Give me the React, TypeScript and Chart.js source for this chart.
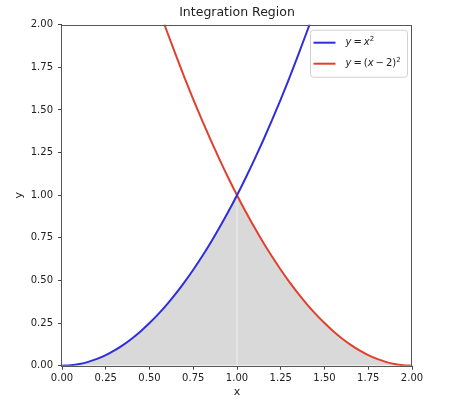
import { useEffect, useRef } from "react";
import { Chart, registerables } from "chart.js";

Chart.register(...registerables);
Chart.defaults.font.family = "'DejaVu Sans', sans-serif";

// sample x positions read along the axis
const xs = [
  0, 0.05, 0.1, 0.15, 0.2, 0.25, 0.3, 0.35, 0.4, 0.45, 0.5, 0.55, 0.6, 0.65,
  0.7, 0.75, 0.8, 0.85, 0.9, 0.95, 1, 1.05, 1.1, 1.15, 1.2, 1.25, 1.3, 1.35,
  1.4, 1.45, 1.5, 1.55, 1.6, 1.65, 1.7, 1.75, 1.8, 1.85, 1.9, 1.95, 2,
];
// y = x^2, for x = 0 .. 1.45 (leaves the plot at the top)
const yBlue = [
  0, 0.0025, 0.01, 0.0225, 0.04, 0.0625, 0.09, 0.1225, 0.16, 0.2025, 0.25,
  0.3025, 0.36, 0.4225, 0.49, 0.5625, 0.64, 0.7225, 0.81, 0.9025, 1, 1.1025,
  1.21, 1.3225, 1.44, 1.5625, 1.69, 1.8225, 1.96, 2.1025,
];
// y = (x-2)^2, for x = 0.55 .. 2
const redStart = 11;
const yRed = [
  2.1025, 1.96, 1.8225, 1.69, 1.5625, 1.44, 1.3225, 1.21, 1.1025, 1, 0.9025,
  0.81, 0.7225, 0.64, 0.5625, 0.49, 0.4225, 0.36, 0.3025, 0.25, 0.2025, 0.16,
  0.1225, 0.09, 0.0625, 0.04, 0.0225, 0.01, 0.0025, 0,
];
// shaded region: lower of the two curves
const yShaded = [
  0, 0.0025, 0.01, 0.0225, 0.04, 0.0625, 0.09, 0.1225, 0.16, 0.2025, 0.25,
  0.3025, 0.36, 0.4225, 0.49, 0.5625, 0.64, 0.7225, 0.81, 0.9025, 1, 0.9025,
  0.81, 0.7225, 0.64, 0.5625, 0.49, 0.4225, 0.36, 0.3025, 0.25, 0.2025, 0.16,
  0.1225, 0.09, 0.0625, 0.04, 0.0225, 0.01, 0.0025, 0,
];
const seamX = [1, 1];
const seamY = [0, 1];

const tickValues = [0, 0.25, 0.5, 0.75, 1, 1.25, 1.5, 1.75, 2];

const blue = "#2e2ede";
const red = "#e2402f";

type Part = { t: string; it?: boolean; sup?: boolean };
const legendItems: { color: string; parts: Part[] }[] = [
  {
    color: blue,
    parts: [{ t: "y", it: true }, { t: "\u2009=\u2009" }, { t: "x", it: true }, { t: "2", sup: true }],
  },
  {
    color: red,
    parts: [
      { t: "y", it: true },
      { t: "\u2009=\u2009(" },
      { t: "x", it: true },
      { t: "\u2009\u2212\u20092)" },
      { t: "2", sup: true },
    ],
  },
];

function drawMath(ctx: CanvasRenderingContext2D, parts: Part[], x: number, y: number) {
  let cx = x;
  for (const p of parts) {
    const size = p.sup ? 7 : 10;
    ctx.font = `${p.it ? "italic " : ""}${size}px 'DejaVu Sans'`;
    ctx.fillText(p.t, cx, p.sup ? y - 4 : y);
    cx += ctx.measureText(p.t).width;
  }
}

const framePlugin = {
  id: "frame",
  afterDatasetsDraw(chart: any) {
    const { ctx, chartArea } = chart;
    ctx.save();
    ctx.strokeStyle = "#555";
    ctx.lineWidth = 1;
    ctx.strokeRect(
      Math.round(chartArea.left) - 0.5,
      Math.round(chartArea.top) + 0.5,
      Math.round(chartArea.right) - Math.round(chartArea.left),
      Math.round(chartArea.bottom) - Math.round(chartArea.top)
    );
    ctx.restore();
  },
};

const legendPlugin = {
  id: "mathLegend",
  afterDraw(chart: any) {
    const { ctx, chartArea } = chart;
    const w = 97;
    const h = 47;
    const left = chartArea.right - 101.5;
    const top = chartArea.top + 5.5;
    ctx.save();
    ctx.beginPath();
    ctx.roundRect(left, top, w, h, 3);
    ctx.fillStyle = "rgba(255,255,255,0.8)";
    ctx.fill();
    ctx.strokeStyle = "#d0d0d0";
    ctx.lineWidth = 1;
    ctx.stroke();
    ctx.textBaseline = "middle";
    ctx.fillStyle = "#222";
    legendItems.forEach((item, i) => {
      const y = top + 12.5 + i * 21;
      ctx.strokeStyle = item.color;
      ctx.lineWidth = 2;
      ctx.beginPath();
      ctx.moveTo(left + 3, y);
      ctx.lineTo(left + 25, y);
      ctx.stroke();
      drawMath(ctx, item.parts, left + 35, y);
    });
    ctx.restore();
  },
};

export default function App() {
  const canvasRef = useRef<HTMLCanvasElement | null>(null);

  useEffect(() => {
    if (!canvasRef.current) return;

    const axis = (title: string, isX: boolean) => ({
      type: "linear",
      min: 0,
      max: 2,
      afterBuildTicks: (scale: any) => {
        scale.ticks = tickValues.map((v) => ({ value: v }));
      },
      afterFit: (scale: any) => {
        if (isX) scale.height = 38.3;
        else scale.width = 62;
      },
      ticks: {
        color: "#222",
        font: { size: 10 },
        padding: isX ? 3 : 5,
        callback: (v: any) => Number(v).toFixed(2),
      },
      grid: {
        drawOnChartArea: false,
        drawTicks: true,
        tickLength: 4,
        tickColor: "#444",
      },
      border: { display: false },
      title: {
        display: true,
        text: title,
        color: "#222",
        font: { size: 11 },
        padding: isX ? { bottom: 5 } : { top: 12.4 },
      },
    });

    const chart = new Chart(canvasRef.current, {
      type: "scatter",
      data: {
        datasets: [
          {
            data: yBlue.map((y, i) => ({ x: xs[i], y })),
            showLine: true,
            borderColor: blue,
            borderWidth: 2,
            pointRadius: 0,
            cubicInterpolationMode: "monotone",
            fill: false,
          },
          {
            data: yRed.map((y, i) => ({ x: xs[i + redStart], y })),
            showLine: true,
            borderColor: red,
            borderWidth: 2,
            pointRadius: 0,
            cubicInterpolationMode: "monotone",
            fill: false,
          },
          {
            data: seamX.map((x, i) => ({ x, y: seamY[i] })),
            showLine: true,
            borderColor: "#eeeeee",
            borderWidth: 1,
            pointRadius: 0,
            fill: false,
          },
          {
            data: yShaded.map((y, i) => ({ x: xs[i], y })),
            showLine: true,
            borderWidth: 0,
            borderColor: "rgba(0,0,0,0)",
            backgroundColor: "#d9d9d9",
            pointRadius: 0,
            cubicInterpolationMode: "monotone",
            fill: "origin",
          },
        ],
      },
      options: {
        animation: false,
        responsive: false,
        layout: { padding: { left: 0, top: 0, right: 62, bottom: 0 } },
        plugins: {
          legend: { display: false },
          tooltip: { enabled: false },
          filler: { drawTime: "beforeDatasetsDraw" },
          title: {
            display: true,
            fullSize: false,
            text: "Integration Region",
            color: "#222",
            font: { size: 12.5, weight: "normal" },
            padding: { top: 5.5, bottom: 4.2 },
          },
        },
        scales: {
          x: axis("x", true),
          y: axis("y", false),
        },
      } as any,
      plugins: [framePlugin, legendPlugin],
    });

    return () => chart.destroy();
  }, []);

  return (
    <div style={{ position: "fixed", left: 0, top: 0, width: 474, height: 404, background: "#fff" }}>
      <canvas ref={canvasRef} width={474} height={404} />
    </div>
  );
}
